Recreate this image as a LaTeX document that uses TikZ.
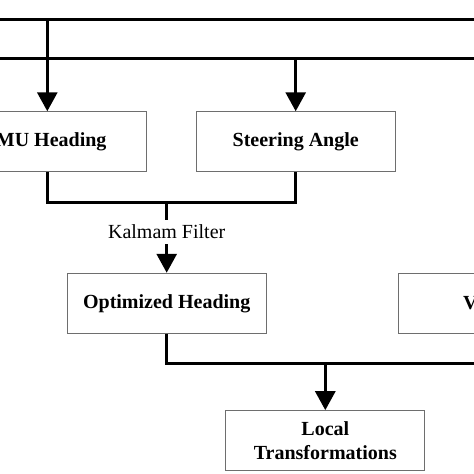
\documentclass[tikz,border=0pt]{standalone}
\usepackage{fontspec}
\setmainfont{Liberation Serif}
\usetikzlibrary{arrows.meta}
\definecolor{boxgray}{RGB}{110,110,110}
\begin{document}
\begin{tikzpicture}[x=1pt,y=-1pt,line join=miter,
  box/.style={draw=boxgray,line width=1.1pt,minimum width=199pt,minimum height=60pt,
    font=\fontsize{20}{24}\selectfont\bfseries,align=center,inner sep=0pt},
  conn/.style={line width=3pt},
  arr/.style={conn,-{Triangle[width=20pt,length=19pt]}},
  lbl/.style={font=\fontsize{20}{24}\selectfont,fill=white,inner xsep=2pt,inner ysep=5pt},
  btxt/.style={font=\fontsize{20}{24}\selectfont\bfseries,inner sep=0pt}]
\useasboundingbox (0,0) rectangle (474,474);
\clip (0,0) rectangle (474,474);
% boxes
\node[box] (imu) at (47.3,141.8) {IMU Heading};
\node[box] (steer) at (295.7,141.8) {Steering Angle};
\node[box] (opt) at (166.7,303.3) {Optimized Heading};
\node[box] (vel) at (497.8,303.3) {};
\node[btxt,anchor=base west] (v) at (463,309.5) {V};
\node[box] (loc) at (325.3,440.7) {Local\\Transformations};
% top buses
\coordinate (t1l) at (-10,19);
\coordinate (t1r) at (484,19);
\coordinate (t2l) at (-10,58.7);
\coordinate (t2r) at (484,58.7);
\draw[conn] (t1l) -- (t1r);
\draw[conn] (t2l) -- (t2r);
\draw[arr] (imu.north |- t1l) -- (imu.north);
\draw[arr] (steer.north |- t2l) -- (steer.north);
% Kalman join
\coordinate (kj) at (166.7,202);
\draw[conn] (imu.south) -- (imu.south |- kj) -- (steer.south |- kj) -- (steer.south);
\draw[arr] (kj) -- (opt.north);
\node[lbl] (kf) at (166.7,232) {Kalmam Filter};
% lower bus
\coordinate (bus) at (325.3,363.3);
\draw[conn] (opt.south) -- (opt.south |- bus) -- (vel.south |- bus) -- (vel.south);
\draw[arr] (bus) -- (loc.north);
\end{tikzpicture}
\end{document}
